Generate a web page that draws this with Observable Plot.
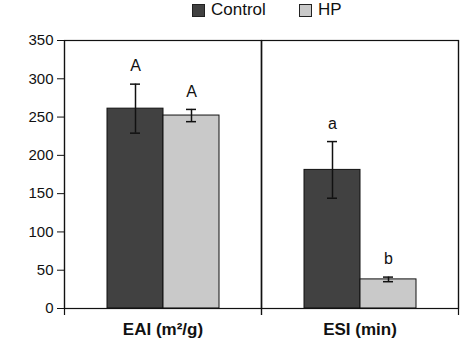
<!DOCTYPE html>
<html><head><meta charset="utf-8">
<script src="https://cdn.jsdelivr.net/npm/d3@7"></script>
<script src="https://cdn.jsdelivr.net/npm/@observablehq/plot@0.6"></script>
<style>
body{margin:0;background:#fff;font-family:"Liberation Sans",Arial,sans-serif;}
#legend{position:relative;height:22px;width:474px;}
.sw{position:absolute;top:4px;width:11px;height:11px;border:1px solid #222;}
.lab{position:absolute;top:0px;font-size:17px;line-height:19px;color:#111;}
</style></head><body>
<div id="legend"></div>
<div id="chart"></div>
<script>
const groups = ["Control", "HP"];
const measures = ["EAI (m²/g)", "ESI (min)"];
const controlValues = [261, 181];
const controlErrors = [32, 37];
const hpValues = [252, 38];
const hpErrors = [8, 3];
const controlLetters = ["A", "a"];
const hpLetters = ["A", "b"];
const yTicks = [0, 50, 100, 150, 200, 250, 300, 350];
const colors = ["#414141", "#c9c9c9"];

const rows = [];
measures.forEach((m, i) => {
  rows.push({measure: m, group: groups[0], value: controlValues[i], lo: controlValues[i] - controlErrors[i], hi: controlValues[i] + controlErrors[i], letter: controlLetters[i]});
  rows.push({measure: m, group: groups[1], value: hpValues[i], lo: hpValues[i] - hpErrors[i], hi: hpValues[i] + hpErrors[i], letter: hpLetters[i]});
});

// legend
const legend = document.getElementById("legend");
const legendX = [192, 299];
groups.forEach((g, i) => {
  const s = document.createElement("div");
  s.className = "sw"; s.style.left = legendX[i] + "px"; s.style.background = colors[i];
  legend.appendChild(s);
  const t = document.createElement("div");
  t.className = "lab"; t.style.left = (legendX[i] + 19) + "px"; t.textContent = g;
  legend.appendChild(t);
});

const plot = Plot.plot({
  width: 474, height: 340,
  marginLeft: 63, marginRight: 16, marginTop: 18, marginBottom: 54,
  style: {fontFamily: "'Liberation Sans', Arial, sans-serif", fontSize: "15px", color: "#111", background: "#fff"},
  fx: {domain: measures, padding: 0, label: null},
  x: {domain: groups, paddingInner: 0, paddingOuter: 0.73, axis: null},
  y: {domain: [0, 350], label: null},
  color: {domain: groups, range: colors},
  marks: [
    Plot.barY(rows, {fx: "measure", x: "group", y: "value", fill: "group", stroke: "#111", strokeWidth: 1}),
    Plot.ruleX(rows, {fx: "measure", x: "group", y1: "lo", y2: "hi", stroke: "#111", strokeWidth: 1.5}),
    Plot.tickY(rows, {fx: "measure", x: "group", y: "hi", insetLeft: 23, insetRight: 23, stroke: "#111", strokeWidth: 1.5}),
    Plot.tickY(rows, {fx: "measure", x: "group", y: "lo", insetLeft: 23, insetRight: 23, stroke: "#111", strokeWidth: 1.5}),
    Plot.text(rows, {fx: "measure", x: "group", y: "hi", text: "letter", dy: -18, fontSize: 16, fill: "#111"}),
    Plot.frame({stroke: "#111", strokeWidth: 1.2}),
    Plot.frame({anchor: "left", insetBottom: -6, stroke: "#111", strokeWidth: 1.2}),
    Plot.frame({anchor: "right", insetBottom: -6, stroke: "#111", strokeWidth: 1.2}),
    Plot.axisY({ticks: yTicks, tickSize: 7, tickPadding: 4, fontSize: 15}),
    Plot.axisFx({anchor: "bottom", tickSize: 0, tickPadding: 14, fontSize: 17, fontWeight: "bold", label: null})
  ]
});
document.getElementById("chart").appendChild(plot);
</script>
</body></html>
